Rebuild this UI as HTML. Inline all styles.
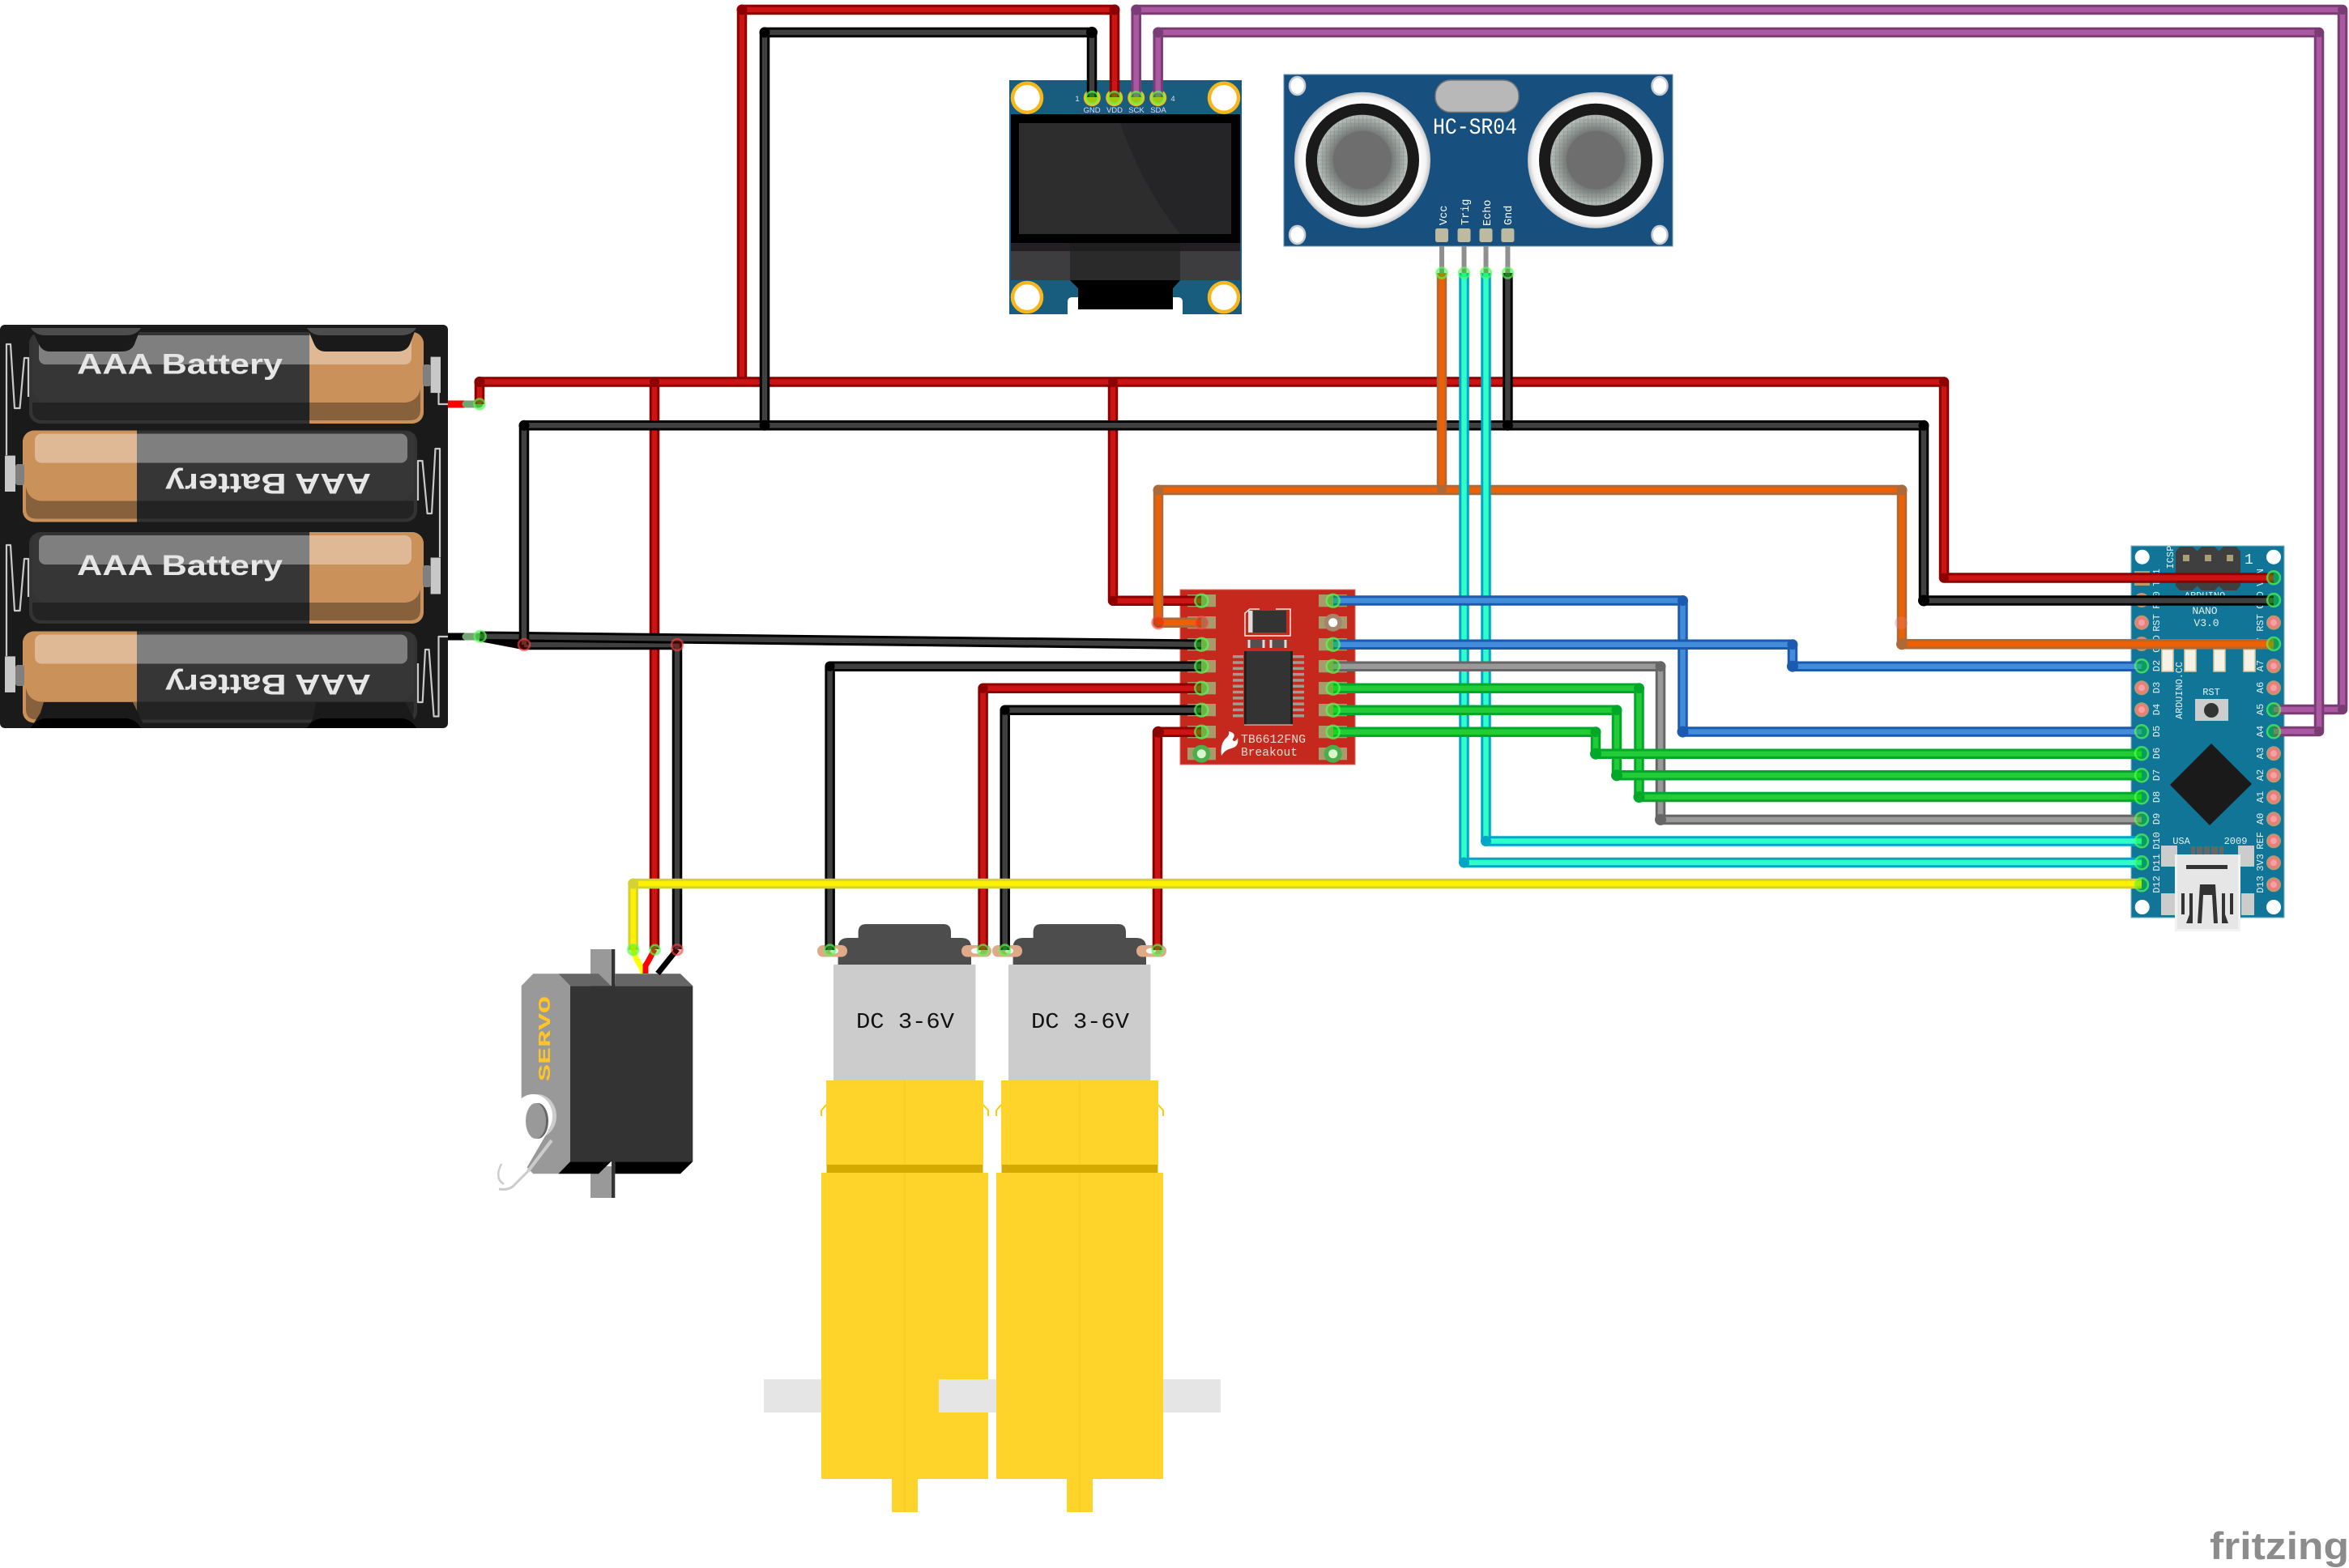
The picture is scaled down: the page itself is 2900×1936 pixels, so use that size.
<!DOCTYPE html>
<html><head><meta charset="utf-8"><title>Fritzing diagram</title>
<style>
html,body{margin:0;padding:0;background:#fff;width:2900px;height:1936px;overflow:hidden}
svg{display:block}
.w{fill:none;stroke-linejoin:round;stroke-linecap:butt}
.e{stroke-width:12.5}.i{stroke-width:6.5}
.re{stroke:#8c0000}.ri{stroke:#cc1414}
.ke{stroke:#000}.ki{stroke:#404040}
.pe{stroke:#7a3c75}.pi{stroke:#ab58a2}
.oe{stroke:#ad6a38}.oi{stroke:#ef6100}
.be{stroke:#1c5ab0}.bi{stroke:#418dd9}
.ge{stroke:#00a82a}.gi{stroke:#23cc37}
.ae{stroke:#666}.ai{stroke:#999}
.ce{stroke:#00a6c8}.ci{stroke:#2fffc8}
.ye{stroke:#d2d232}.yi{stroke:#fff000}
.h{fill:rgba(0,230,0,.35);stroke:rgba(90,255,90,.65);stroke-width:2.5}
.x{fill:rgba(200,0,0,.3);stroke:rgba(255,70,70,.6);stroke-width:2.5}
text{font-family:"Liberation Mono",monospace}
.l{font-size:12px;fill:#e4f0f4;text-anchor:middle}
.s{font-family:"Liberation Sans",sans-serif}
</style></head><body>
<svg xmlns="http://www.w3.org/2000/svg" width="2900" height="1936" viewBox="0 0 2900 1936">
<defs>
<g id="batt">
<rect width="487" height="113" rx="14" fill="#333"/>
<path d="M4 87H483V96Q483 109 470 109H17Q4 109 4 96Z" fill="#232323"/>
<path d="M4 4H483V70Q480 87 465 87H22Q7 87 4 70Z" fill="#363636"/>
<rect x="12" y="4" width="460" height="36" rx="8" fill="#7f7f7f"/>
<path d="M346 0H473a14 14 0 0 1 14 14V99a14 14 0 0 1-14 14H346Z" fill="#cb915b"/>
<path d="M346 87H465Q480 85 483 70V96Q483 109 470 109H346Z" fill="#87603c"/>
<path d="M346 4H464a8 8 0 0 1 8 8V32a8 8 0 0 1-8 8H346Z" fill="#dfb896"/>
</g>
<g id="pin"><circle r="9" fill="#b79b6e"/><circle r="7" fill="#ef7c7c"/><circle r="4" fill="#f2a2a2"/></g>
<pattern id="mesh" width="5" height="5" patternUnits="userSpaceOnUse"><path d="M0 0H5M0 0V5" stroke="#6f7874" stroke-width="1" fill="none"/></pattern>
<radialGradient id="cone"><stop offset=".6" stop-color="#6d716f"/><stop offset="1" stop-color="#b9c2bd"/></radialGradient>
<radialGradient id="ring"><stop offset=".82" stop-color="#fff"/><stop offset=".93" stop-color="#f4f4f4"/><stop offset="1" stop-color="#c4c4c4"/></radialGradient>
<g id="trans">
<circle r="84" fill="url(#ring)"/><circle r="70" fill="#1a1a1a"/>
<circle r="56" fill="url(#cone)"/><circle r="56" fill="url(#mesh)" opacity=".55"/><circle r="36" fill="#6e6e6e"/>
</g>
<g id="motor">
<rect x="943" y="1703" width="71" height="41" fill="#e5e5e5"/>
<rect x="1220" y="1703" width="71" height="41" fill="#e5e5e5"/>
<path d="M1034.6 1191V1170Q1034.6 1158 1047 1158H1059.6V1151Q1059.6 1141 1069 1141H1165Q1174 1141 1174 1151V1158H1187Q1199 1158 1199 1170V1191Z" fill="#4d4d4d"/>
<rect x="1009" y="1167" width="37" height="14.5" rx="7" fill="#deaa87"/>
<rect x="1187" y="1167" width="37" height="14.5" rx="7" fill="#deaa87"/>
<ellipse cx="1030" cy="1174" rx="5" ry="3.5" fill="#fff"/>
<ellipse cx="1205" cy="1174" rx="6" ry="3.5" fill="#fff"/>
<rect x="1029" y="1191" width="175.5" height="143" fill="#ccc"/>
<text x="1057" y="1269" font-size="27" textLength="121" lengthAdjust="spacingAndGlyphs" fill="#111">DC 3-6V</text>
<path d="M1020 1364L1014 1371V1378M1214 1364L1220 1371V1378" fill="none" stroke="#fc0" stroke-width="2"/>
<rect x="1020" y="1334" width="194" height="104" fill="#ffd42a"/>
<rect x="1020.5" y="1438" width="193" height="10" fill="#d4aa00"/>
<rect x="1014" y="1448" width="206" height="378" fill="#ffd42a"/>
<rect x="1101" y="1826" width="32" height="41" fill="#ffd42a"/>
<path d="M1117 1334V1438M1117 1448V1867" stroke="#f0c81e" stroke-width="1"/>
</g>
</defs>

<!-- Battery holder -->
<rect x="0" y="401" width="553" height="498" rx="6" fill="#1a1a1a"/>
<use href="#batt" x="36" y="410"/>
<use href="#batt" transform="translate(515,531.5) scale(-1,1)"/>
<use href="#batt" x="36" y="657"/>
<use href="#batt" transform="translate(515,779.5) scale(-1,1)"/>
<path d="M38 404H174L166 425Q162 434 150 434H62Q52 434 48 425Z" fill="#1a1a1a"/>
<path d="M379 404H514L506 425Q502 434 490 434H402Q392 434 388 425Z" fill="#1a1a1a"/>
<path d="M38 405H174Q168 414 156 414H56Q44 414 38 405Z" fill="#4d4d4d"/>
<path d="M379 405H514Q508 414 496 414H397Q385 414 379 405Z" fill="#4d4d4d"/>
<path d="M38 899L50 880L54 867H164L174 888L180 899Z" fill="#1a1a1a"/>
<path d="M379 899L386 888L390 867H500L510 885L514 899Z" fill="#1a1a1a"/>
<path d="M38 899Q44 888 56 887H156Q168 888 174 899ZM379 899Q385 888 397 887H496Q508 888 514 899Z" fill="#000"/>
<text class="s" x="95" y="461.6" font-size="35" font-weight="bold" textLength="254" lengthAdjust="spacingAndGlyphs" fill="#e6e6e6">AAA Battery</text>
<text class="s" x="95" y="710" font-size="35" font-weight="bold" textLength="254" lengthAdjust="spacingAndGlyphs" fill="#e6e6e6">AAA Battery</text>
<text class="s" transform="translate(458,585) rotate(180)" font-size="35" font-weight="bold" textLength="254" lengthAdjust="spacingAndGlyphs" fill="#e6e6e6">AAA Battery</text>
<text class="s" transform="translate(458,833) rotate(180)" font-size="35" font-weight="bold" textLength="254" lengthAdjust="spacingAndGlyphs" fill="#e6e6e6">AAA Battery</text>
<g fill="none" stroke="#c8c8c8" stroke-width="2.2" stroke-linejoin="round">
<path d="M8 562V425H13L18 504H24.5L30 442H35V490"/>
<path d="M8 810V673H13L18 754H24.5L30 690H35V737"/>
<path d="M516 618V569H521.5L527.6 634H533L537.5 554H543V688"/>
<path d="M553 786H541.5V884.5H535.6L529.6 802H525L521.7 867H516V819"/>
<path d="M541.5 485V499H553"/>
</g>
<g fill="#c8c8c8">
<rect x="6" y="562.5" width="13" height="44.5"/><rect x="6" y="810.4" width="13" height="44.5"/>
<rect x="531.6" y="440.6" width="12.4" height="44.5"/><rect x="531.6" y="688.5" width="12.4" height="45"/>
</g>
<g fill="#808080">
<rect x="19" y="573" width="11" height="26" rx="3"/><rect x="19" y="821" width="11" height="26" rx="3"/>
<rect x="522" y="450" width="10" height="27" rx="3"/><rect x="522" y="698" width="10" height="27" rx="3"/>
</g>
<path d="M553 499H574" stroke="#f00" stroke-width="9"/>
<path d="M553 786H574" stroke="#000" stroke-width="9"/>
<path d="M575 499H592M575 786H592" stroke="#73a573" stroke-width="9" stroke-linecap="round"/>

<!-- OLED -->
<path d="M1246 99H1533V388H1460V373Q1460 367 1454 367H1324Q1318 367 1318 373V388H1246Z" fill="#185d7e"/>
<rect x="1248" y="141" width="283" height="159" fill="#000"/>
<rect x="1258" y="152" width="262" height="137" fill="#2d2d2d"/>
<path d="M1383 152H1520V289H1457Q1410 230 1383 152Z" fill="#252527"/>
<rect x="1248" y="300" width="283" height="10" fill="#231f23"/>
<rect x="1248" y="310" width="283" height="36" fill="#3d3d40"/>
<rect x="1321" y="300" width="136" height="10" fill="#1e1e1e"/>
<rect x="1321" y="310" width="136" height="36" fill="#2a2a2a"/>
<path d="M1321 346H1457L1448 356V382H1331V356Z" fill="#000"/>
<g fill="#fff" stroke="#f9b61a" stroke-width="4.5">
<circle cx="1268" cy="120.7" r="18"/><circle cx="1511" cy="120.7" r="18"/>
<circle cx="1268" cy="367" r="18"/><circle cx="1511" cy="367" r="18"/>
</g>
<g fill="#f8b81a">
<circle cx="1348.3" cy="120.7" r="10.5"/><circle cx="1375.7" cy="120.7" r="10.5"/><circle cx="1402.7" cy="120.7" r="10.5"/><circle cx="1429.7" cy="120.7" r="10.5"/>
</g>
<g class="s" font-size="9.5" fill="#dde" text-anchor="middle">
<text class="s" x="1348" y="139">GND</text><text class="s" x="1376" y="139">VDD</text><text class="s" x="1403" y="139">SCK</text><text class="s" x="1430" y="139">SDA</text>
<text class="s" x="1330" y="125">1</text><text class="s" x="1448" y="125">4</text>
</g>

<!-- HC-SR04 -->
<rect x="1585" y="92" width="480" height="212" fill="#17507f" stroke="#6f93b0" stroke-width="1"/>
<g fill="#fff" stroke="#c8ccd2" stroke-width="2.5">
<ellipse cx="1601.6" cy="106" rx="9.5" ry="11"/><ellipse cx="2049" cy="106" rx="9.5" ry="11"/>
<ellipse cx="1601.6" cy="290" rx="9.5" ry="11"/><ellipse cx="2049" cy="290" rx="9.5" ry="11"/>
</g>
<rect x="1772" y="99" width="103" height="39.5" rx="19" fill="#b8b8b8" stroke="#777" stroke-width="1.5"/>
<use href="#trans" x="1682" y="197.7"/><use href="#trans" x="1970" y="197.7"/>
<text x="1769" y="165" font-size="28" textLength="104" lengthAdjust="spacingAndGlyphs" fill="#fff">HC-SR04</text>
<g font-size="13.5" fill="#fff">
<text transform="translate(1786,278) rotate(-90)">Vcc</text>
<text transform="translate(1813,278) rotate(-90)">Trig</text>
<text transform="translate(1840,279) rotate(-90)">Echo</text>
<text transform="translate(1866,278) rotate(-90)">Gnd</text>
</g>
<g fill="#bdbb9f">
<rect x="1772" y="282" width="16" height="17" rx="2.5"/><rect x="1799.5" y="282" width="16" height="17" rx="2.5"/><rect x="1826.5" y="282" width="16" height="17" rx="2.5"/><rect x="1853.4" y="282" width="16" height="17" rx="2.5"/>
</g>
<path d="M1780 304V337M1807.5 304V337M1834.5 304V337M1861.4 304V337" stroke="#8f8f8f" stroke-width="6"/>

<!-- TB6612 -->
<rect x="1457" y="728" width="216" height="216" fill="#c5281c" stroke="#dd6a60" stroke-width="1"/>
<g fill="#a89a6a">
<rect x="1466" y="734" width="35" height="15.3"/><rect x="1466" y="761" width="35" height="15.3"/><rect x="1466" y="788" width="35" height="15.3"/><rect x="1466" y="815" width="35" height="15.3"/><rect x="1466" y="842" width="35" height="15.3"/><rect x="1466" y="869" width="35" height="15.3"/><rect x="1466" y="896" width="35" height="15.3"/><rect x="1466" y="923" width="35" height="15.3"/>
<rect x="1628" y="734" width="35" height="15.3"/><rect x="1628" y="761" width="35" height="15.3"/><rect x="1628" y="788" width="35" height="15.3"/><rect x="1628" y="815" width="35" height="15.3"/><rect x="1628" y="842" width="35" height="15.3"/><rect x="1628" y="869" width="35" height="15.3"/><rect x="1628" y="896" width="35" height="15.3"/><rect x="1628" y="923" width="35" height="15.3"/>
</g>
<path d="M1555 752H1543L1537 757V785H1593V752H1575" fill="none" stroke="#f5e6e0" stroke-width="1.5"/>
<rect x="1541" y="754" width="47" height="27" fill="#333"/><rect x="1541" y="754" width="5.5" height="27" fill="#ddd"/>
<rect x="1540" y="790" width="22" height="10" fill="#55504d"/><rect x="1567" y="790" width="22" height="10" fill="#55504d"/>
<path d="M1542 790V800M1560 790V800M1569 790V800M1587 790V800" stroke="#ddd" stroke-width="3"/>
<g fill="#a09a90">
<rect x="1522" y="809" width="13" height="3.5"/><rect x="1522" y="816.3" width="13" height="3.5"/><rect x="1522" y="823.6" width="13" height="3.5"/><rect x="1522" y="830.9" width="13" height="3.5"/><rect x="1522" y="838.2" width="13" height="3.5"/><rect x="1522" y="845.5" width="13" height="3.5"/><rect x="1522" y="852.8" width="13" height="3.5"/><rect x="1522" y="860.1" width="13" height="3.5"/><rect x="1522" y="867.4" width="13" height="3.5"/><rect x="1522" y="874.7" width="13" height="3.5"/><rect x="1522" y="882" width="13" height="3.5"/>
<rect x="1596" y="809" width="14" height="3.5"/><rect x="1596" y="816.3" width="14" height="3.5"/><rect x="1596" y="823.6" width="14" height="3.5"/><rect x="1596" y="830.9" width="14" height="3.5"/><rect x="1596" y="838.2" width="14" height="3.5"/><rect x="1596" y="845.5" width="14" height="3.5"/><rect x="1596" y="852.8" width="14" height="3.5"/><rect x="1596" y="860.1" width="14" height="3.5"/><rect x="1596" y="867.4" width="14" height="3.5"/><rect x="1596" y="874.7" width="14" height="3.5"/><rect x="1596" y="882" width="14" height="3.5"/>
</g>
<rect x="1536" y="804" width="60" height="91" fill="#333"/>
<path d="M1536 804H1539V895H1536ZM1593 804H1596V895H1593Z" fill="#1f1f1f"/>
<path d="M1536 895H1596" stroke="#ecdcd8" stroke-width="1"/>
<path d="M1508 933Q1506 918 1514 911Q1518 908 1517 903Q1526 905 1523 911Q1520 914 1524 915Q1527 914 1528 911Q1530 922 1520 924Q1512 926 1508 933Z" fill="#fff"/>
<text x="1532" y="917" font-size="14.5" textLength="80" lengthAdjust="spacingAndGlyphs" fill="#f5dcd0">TB6612FNG</text>
<text x="1532" y="933" font-size="14.5" textLength="70" lengthAdjust="spacingAndGlyphs" fill="#f5dcd0">Breakout</text>
<circle cx="1645.7" cy="768.7" r="11" fill="#a3856a"/><circle cx="1645.7" cy="768.7" r="5.5" fill="#fff"/>
<circle cx="1483.3" cy="930.7" r="11" fill="#4cae4a"/><circle cx="1483.3" cy="930.7" r="5.5" fill="#d8f5d0"/>
<circle cx="1645.7" cy="930.7" r="11" fill="#4cae4a"/><circle cx="1645.7" cy="930.7" r="5.5" fill="#d8f5d0"/>

<!-- Arduino Nano -->
<rect x="2631" y="674" width="189" height="459" fill="#107596" stroke="#7fb6c8" stroke-width="1"/>
<g fill="#fff"><circle cx="2644.7" cy="687.7" r="9"/><circle cx="2807" cy="687.7" r="9"/><circle cx="2644.7" cy="1120" r="9"/><circle cx="2807" cy="1120" r="9"/></g>
<g fill="#3f3f3f">
<path d="M2691 675H2707L2713 681V723L2707 729H2691L2686 723V681Z"/>
<path d="M2718 675H2734L2740 681V723L2734 729H2718L2712 723V681Z"/>
<path d="M2745 675H2761L2766 681V723L2761 729H2745L2739 723V681Z"/>
</g>
<g fill="#a89f75"><rect x="2695" y="685" width="8" height="8"/><rect x="2722" y="685" width="8" height="8"/><rect x="2749" y="685" width="8" height="8"/></g>
<text x="2771" y="696" font-size="18" fill="#e8f2f5">1</text>
<text transform="translate(2683,688) rotate(-90)" class="l">ICSP</text>
<text x="2722" y="739" font-size="12" text-anchor="middle" fill="#e4f0f4">ARDUINO</text>
<text x="2722" y="758" font-size="13" text-anchor="middle" fill="#e4f0f4">NANO</text>
<text x="2724" y="773" font-size="13" text-anchor="middle" fill="#e4f0f4">V3.0</text>
<g fill="#f6f2e6" stroke="#d9c999" stroke-width="1.5">
<rect x="2669" y="802" width="14" height="27"/><rect x="2697" y="802" width="14" height="27"/><rect x="2733" y="802" width="14" height="27"/><rect x="2770" y="802" width="14" height="27"/>
</g>
<text transform="translate(2694,888) rotate(-90)" font-size="12" textLength="71" lengthAdjust="spacingAndGlyphs" fill="#e4f0f4">ARDUINO.CC</text>
<text x="2730" y="858" class="l">RST</text>
<rect x="2710" y="863" width="41" height="27" fill="#ccc"/><circle cx="2730" cy="877" r="9" fill="#333"/>
<path d="M2730 918L2780 968L2728 1019L2679 969Z" fill="#1a1a1a"/>
<text x="2693" y="1042" class="l" font-size="13">USA</text><text x="2760" y="1042" class="l" font-size="13">2009</text>
<g fill="#ccc"><rect x="2668" y="1044" width="20" height="26"/><rect x="2763" y="1044" width="20" height="26"/><rect x="2668" y="1103" width="17" height="27"/><rect x="2767" y="1103" width="16" height="27"/></g>
<path d="M2705 1045H2745V1055H2705Z" fill="#666"/><path d="M2711 1045V1055M2720 1045V1055M2729 1045V1055M2739 1045V1055" stroke="#107596" stroke-width="2"/>
<rect x="2708" y="1055" width="35" height="2" fill="#333"/>
<rect x="2685" y="1055" width="81" height="95" fill="#f2f2f2"/><rect x="2688" y="1055" width="75" height="92" fill="#e6e6e6"/>
<rect x="2699" y="1068" width="51" height="5" fill="#333"/>
<path d="M2716 1092H2735L2738 1140H2733L2731 1105H2720L2718 1140H2713Z" fill="#333"/>
<g fill="#333">
<rect x="2693" y="1103" width="4" height="26"/><rect x="2703" y="1103" width="4" height="26"/><rect x="2743" y="1103" width="4" height="26"/><rect x="2753" y="1103" width="4" height="26"/>
<path d="M2703 1129H2707V1140H2699ZM2743 1129H2747L2751 1140H2743Z"/>
</g>
<use href="#pin" x="2644" y="741"/><use href="#pin" x="2644" y="768.7"/><use href="#pin" x="2644" y="795"/><use href="#pin" x="2644" y="849.3"/><use href="#pin" x="2644" y="876.3"/>
<rect x="2635" y="705" width="19" height="18" fill="#b79b6e"/><circle cx="2644" cy="713.3" r="6" fill="#ef7c7c"/>
<use href="#pin" x="2807" y="768.7"/><use href="#pin" x="2807" y="822.3"/><use href="#pin" x="2807" y="849.3"/><use href="#pin" x="2807" y="930.3"/><use href="#pin" x="2807" y="957.3"/><use href="#pin" x="2807" y="984.3"/><use href="#pin" x="2807" y="1011.3"/><use href="#pin" x="2807" y="1038.3"/><use href="#pin" x="2807" y="1065.3"/><use href="#pin" x="2807" y="1092.3"/>
<g>
<text class="l" transform="translate(2666,713) rotate(-90)">TX1</text><text class="l" transform="translate(2666,741) rotate(-90)">RX0</text><text class="l" transform="translate(2666,769) rotate(-90)">RST</text><text class="l" transform="translate(2666,795) rotate(-90)">GND</text>
<text class="l" transform="translate(2666,822) rotate(-90)">D2</text><text class="l" transform="translate(2666,849) rotate(-90)">D3</text><text class="l" transform="translate(2666,876) rotate(-90)">D4</text><text class="l" transform="translate(2666,903) rotate(-90)">D5</text><text class="l" transform="translate(2666,930) rotate(-90)">D6</text><text class="l" transform="translate(2666,957) rotate(-90)">D7</text><text class="l" transform="translate(2666,984) rotate(-90)">D8</text><text class="l" transform="translate(2666,1011) rotate(-90)">D9</text><text class="l" transform="translate(2666,1038) rotate(-90)">D10</text><text class="l" transform="translate(2666,1065) rotate(-90)">D11</text><text class="l" transform="translate(2666,1092) rotate(-90)">D12</text>
<text class="l" transform="translate(2794,713) rotate(-90)">VIN</text><text class="l" transform="translate(2794,741) rotate(-90)">GND</text><text class="l" transform="translate(2794,769) rotate(-90)">RST</text><text class="l" transform="translate(2794,795) rotate(-90)">5V</text>
<text class="l" transform="translate(2794,822) rotate(-90)">A7</text><text class="l" transform="translate(2794,849) rotate(-90)">A6</text><text class="l" transform="translate(2794,876) rotate(-90)">A5</text><text class="l" transform="translate(2794,903) rotate(-90)">A4</text><text class="l" transform="translate(2794,930) rotate(-90)">A3</text><text class="l" transform="translate(2794,957) rotate(-90)">A2</text><text class="l" transform="translate(2794,984) rotate(-90)">A1</text><text class="l" transform="translate(2794,1011) rotate(-90)">A0</text><text class="l" transform="translate(2794,1038) rotate(-90)">REF</text><text class="l" transform="translate(2794,1065) rotate(-90)">3V3</text><text class="l" transform="translate(2794,1092) rotate(-90)">D13</text>
</g>

<!-- Servo -->
<rect x="729" y="1172" width="26" height="50" fill="#999"/>
<rect x="729" y="1440" width="26" height="39" fill="#999"/>
<rect x="755" y="1172" width="4.3" height="307" fill="#333"/>
<path d="M643.7 1217.3L658.3 1202.3H689.3L704 1217.3V1434.3L689.3 1449.3H658.3L643.7 1434.3Z" fill="#999"/>
<path d="M689.3 1202.3H739L754.3 1217.3H704ZM759.3 1202.3H840L855.3 1217.3H759.3Z" fill="#666"/>
<rect x="704" y="1217.3" width="151.3" height="217" fill="#333"/>
<path d="M704 1434.3H754.3L739 1449.3H689.3ZM759.3 1434.3H855.3L840 1449.3H759.3Z" fill="#000"/>
<rect x="755" y="1215" width="4.3" height="222" fill="#333"/>
<text transform="translate(679,1335) rotate(-90)" font-size="21" font-weight="bold" textLength="105" lengthAdjust="spacingAndGlyphs" fill="#ffc425">SERVO</text>
<ellipse cx="663" cy="1378" rx="24" ry="27" fill="#ccc"/>
<path d="M681 1408L652 1446" fill="none" stroke="#ccc" stroke-width="4"/>
<ellipse cx="658" cy="1378" rx="24" ry="27" fill="#fff"/>
<path d="M632 1390L677 1396L649 1444L640 1448L632 1440Z" fill="#fff"/>
<ellipse cx="664" cy="1384" rx="13" ry="22" fill="#666"/><ellipse cx="661.5" cy="1384" rx="12.5" ry="22" fill="#999"/>
<path d="M652 1446L633 1465Q626 1470 616 1468" fill="none" stroke="#ccc" stroke-width="3"/>
<path d="M619 1437Q610 1455 622 1462" fill="none" stroke="#ccc" stroke-width="2.5"/>
<path d="M782 1172Q783 1180 788 1188Q793 1196 794 1202" fill="none" stroke="#ff0" stroke-width="7"/>
<path d="M808 1172Q800 1188 797 1192Q797 1198 797 1202" fill="none" stroke="#f00" stroke-width="7"/>
<path d="M836 1172L812 1202" fill="none" stroke="#000" stroke-width="7"/>

<!-- Motors -->
<use href="#motor"/>
<use href="#motor" x="216"/>

<!-- Wires -->
<g class="w">
<path class="re e" d="M1374 471V741.7H1483"/><path class="ri i" d="M1374 471V741.7H1483"/>
<path class="re e" d="M808 1172V471"/><path class="ri i" d="M808 1172V471"/>
<path class="re e" d="M1376 120V12H916V471"/><path class="ri i" d="M1376 120V12H916V471"/>
<path class="re e" d="M592 499V471.5H2400V713.5H2807"/><path class="ri i" d="M592 499V471.5H2400V713.5H2807"/>
<path class="re e" d="M1213.6 1173V849.7H1483"/><path class="ri i" d="M1213.6 1173V849.7H1483"/>
<path class="re e" d="M1429 1173V903.7H1483"/><path class="ri i" d="M1429 1173V903.7H1483"/>
<path class="ke e" d="M1348 120V40H944V525"/><path class="ki i" d="M1348 120V40H944V525"/>
<path class="ke e" d="M1861.4 337V525"/><path class="ki i" d="M1861.4 337V525"/>
<path class="ke e" d="M592.7 785.7L647 796H836V1172"/><path class="ki i" d="M647 796H836V1172"/>
<path class="ke e" d="M592.7 785.7L1483 795.7"/><path class="ki i" d="M592.7 785.7L1483 795.7"/>
<path class="ke e" d="M647 796V525.3H2375V741.5H2807"/><path class="ki i" d="M647 796V525.3H2375V741.5H2807"/>
<path class="ke e" d="M1024.6 1173V822.7H1483"/><path class="ki i" d="M1024.6 1173V822.7H1483"/>
<path class="ke e" d="M1240.7 1173V876.7H1483"/><path class="ki i" d="M1240.7 1173V876.7H1483"/>
<path class="pe e" d="M1402.7 120V12H2892V876H2807"/><path class="pi i" d="M1402.7 120V12H2892V876H2807"/>
<path class="pe e" d="M1429.7 120V40H2863V903H2807"/><path class="pi i" d="M1429.7 120V40H2863V903H2807"/>
<path class="oe e" d="M1780 337V605"/><path class="oi i" d="M1780 337V605"/>
<path class="oe e" d="M1483 768.7H1430V605H2348V795.3H2807"/><path class="oi i" d="M1483 768.7H1430V605H2348V795.3H2807"/>
<path class="ce e" d="M1807.5 337V1065H2644"/><path class="ci i" d="M1807.5 337V1065H2644"/>
<path class="ce e" d="M1834.5 337V1038.5H2644"/><path class="ci i" d="M1834.5 337V1038.5H2644"/>
<path class="be e" d="M1646 741.5H2077.5V903.5H2644"/><path class="bi i" d="M1646 741.5H2077.5V903.5H2644"/>
<path class="ae e" d="M1646 822.7H2050V1012H2644"/><path class="ai i" d="M1646 822.7H2050V1012H2644"/>
<path class="ge e" d="M1646 849.7H2023.5V984H2644"/><path class="gi i" d="M1646 849.7H2023.5V984H2644"/>
<path class="ge e" d="M1646 876.7H1996V957.3H2644"/><path class="gi i" d="M1646 876.7H1996V957.3H2644"/>
<path class="ge e" d="M1646 903.7H1970V930.7H2644"/><path class="gi i" d="M1646 903.7H1970V930.7H2644"/>
<path class="be e" d="M1646 795.7H2213V822.7H2644"/><path class="bi i" d="M1646 795.7H2213V822.7H2644"/>
<path class="ye e" d="M781.7 1172.7V1091H2644"/><path class="yi i" d="M781.7 1172.7V1091H2644"/>
</g>

<!-- Bend points -->
<g fill="#8c0000"><circle cx="592" cy="471.5" r="6.5"/><circle cx="916" cy="12" r="6.5"/><circle cx="1376" cy="12" r="6.5"/><circle cx="2400" cy="471.5" r="6"/><circle cx="2400" cy="713.5" r="6"/><circle cx="1374" cy="471.5" r="6"/><circle cx="1374" cy="741.7" r="6"/><circle cx="808" cy="471.5" r="6"/><circle cx="1430" cy="903.7" r="7"/><circle cx="1213.6" cy="849.7" r="6"/></g>
<g fill="#000"><circle cx="944" cy="40" r="6.5"/><circle cx="1348" cy="40" r="7"/><circle cx="944" cy="525.3" r="6.5"/><circle cx="647" cy="525.3" r="6.5"/><circle cx="2375" cy="525.3" r="6.5"/><circle cx="2375" cy="741.5" r="7"/><circle cx="1861.4" cy="525.3" r="6.5"/><circle cx="1024.6" cy="822.7" r="6"/><circle cx="1240.7" cy="876.7" r="6"/></g>
<g fill="#7a3c75"><circle cx="1402.7" cy="12" r="6.5"/><circle cx="1429.7" cy="40" r="6.5"/><circle cx="2892" cy="12" r="6"/><circle cx="2863" cy="40" r="6"/><circle cx="2892" cy="876" r="6"/><circle cx="2863" cy="903" r="6"/></g>
<g fill="#ad6a38"><circle cx="1780" cy="605" r="6"/><circle cx="1430" cy="605" r="6.5"/><circle cx="2348" cy="605" r="6.5"/><circle cx="2348" cy="795.3" r="7"/></g>
<g fill="#1c5ab0"><circle cx="2077.5" cy="741.5" r="6.5"/><circle cx="2077.5" cy="903.5" r="7"/><circle cx="2213" cy="795.7" r="6.5"/><circle cx="2213" cy="822.7" r="7"/></g>
<g fill="#00a82a"><circle cx="2023.5" cy="849.7" r="6.5"/><circle cx="2023.5" cy="984" r="7"/><circle cx="1996" cy="876.7" r="6.5"/><circle cx="1996" cy="957.3" r="7"/><circle cx="1970" cy="903.7" r="6.5"/><circle cx="1970" cy="930.7" r="7"/></g>
<g fill="#666"><circle cx="2050" cy="822.7" r="6.5"/><circle cx="2050" cy="1012" r="7"/></g>
<g fill="#00a6c8"><circle cx="1807.5" cy="1065" r="6.5"/><circle cx="1834.5" cy="1038.5" r="6.5"/></g>
<g fill="#d2d232"><circle cx="781.7" cy="1091" r="6.5"/></g>

<!-- Connector halos -->
<g class="h">
<circle cx="592" cy="499" r="6.5"/><circle cx="592.7" cy="785.7" r="7"/>
<circle cx="1348.3" cy="120.7" r="7.5"/><circle cx="1375.7" cy="120.7" r="7.5"/><circle cx="1402.7" cy="120.7" r="7.5"/><circle cx="1429.7" cy="120.7" r="7.5"/>
<circle cx="1780" cy="337" r="6.5"/><circle cx="1807.5" cy="337" r="6.5"/><circle cx="1834.5" cy="337" r="6.5"/><circle cx="1861.4" cy="337" r="6.5"/>
<circle cx="1483.3" cy="741.7" r="8"/><circle cx="1483.3" cy="795.7" r="8"/><circle cx="1483.3" cy="822.7" r="8"/><circle cx="1483.3" cy="849.7" r="8"/><circle cx="1483.3" cy="876.7" r="8"/><circle cx="1483.3" cy="903.7" r="8"/>
<circle cx="1645.7" cy="741.7" r="8"/><circle cx="1645.7" cy="795.7" r="8"/><circle cx="1645.7" cy="822.7" r="8"/><circle cx="1645.7" cy="849.7" r="8"/><circle cx="1645.7" cy="876.7" r="8"/><circle cx="1645.7" cy="903.7" r="8"/>
<circle cx="2807" cy="713.3" r="8"/><circle cx="2807" cy="741" r="8"/><circle cx="2807" cy="795" r="8"/><circle cx="2807" cy="876.3" r="8"/><circle cx="2807" cy="903.3" r="8"/>
<circle cx="2644" cy="822.3" r="8"/><circle cx="2644" cy="903.3" r="8"/><circle cx="2644" cy="930.3" r="8"/><circle cx="2644" cy="957.3" r="8"/><circle cx="2644" cy="984.3" r="8"/><circle cx="2644" cy="1011.3" r="8"/><circle cx="2644" cy="1038.3" r="8"/><circle cx="2644" cy="1065.3" r="8"/><circle cx="2644" cy="1092.3" r="8"/>
<circle cx="781.7" cy="1172.7" r="6.5"/><circle cx="808.7" cy="1172.7" r="6"/>
<circle cx="1024.6" cy="1173" r="6.5"/><circle cx="1213.6" cy="1173" r="6.5"/><circle cx="1240.7" cy="1173" r="6.5"/><circle cx="1429" cy="1173" r="6.5"/>
</g>
<g class="x">
<circle cx="836" cy="1172.7" r="6.5"/><circle cx="647" cy="796" r="7"/><circle cx="836" cy="796" r="7"/>
<circle cx="1430" cy="768.7" r="7.5"/><circle cx="1483.3" cy="768.7" r="7.5"/>
</g>
<circle cx="2347" cy="769" r="8" fill="rgba(240,120,120,.35)"/>

<text class="s" x="2728" y="1925" font-size="47" font-weight="bold" textLength="172" lengthAdjust="spacingAndGlyphs" fill="#8c8c8c">fritzing</text>
</svg>
</body></html>
